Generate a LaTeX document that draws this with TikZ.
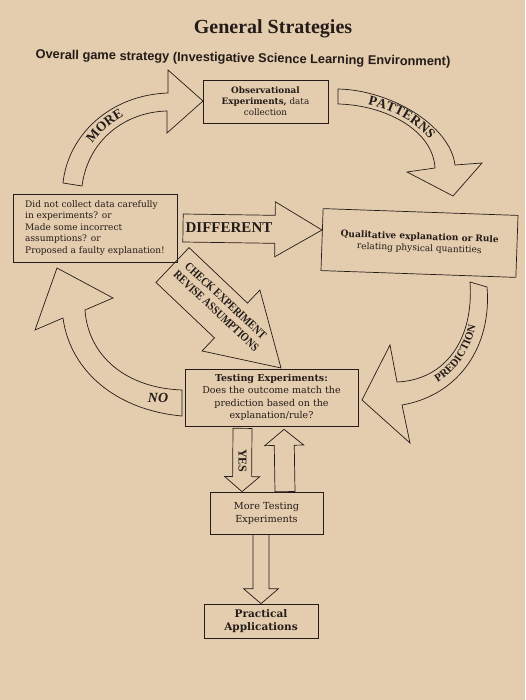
\documentclass[tikz,border=0pt]{standalone}
\usepackage{fontspec}
\setmainfont{Liberation Serif}
\newfontfamily\boxfont{DejaVu Serif}
\newfontfamily\headfont{Liberation Sans}
\usetikzlibrary{calc,decorations.text}

\definecolor{paper}{RGB}{228,204,174}
\definecolor{ink}{RGB}{35,28,24}

\tikzset{
  box/.style={draw=ink, line width=0.7pt, align=center, inner sep=1pt, text=ink,
    font=\boxfont\fontsize{9}{11.5}\selectfont},
  fat/.style={draw=ink, line width=0.7pt, line join=miter},
  tag/.style={font=\bfseries\fontsize{#1}{#1}\selectfont, inner sep=0pt, text=ink},
  tag/.default=12
}

% straight block arrow: tail, tip, half shaft, half head, head length
\newcommand{\fatarrow}[5]{%
  \coordinate (fa-h) at ($(#2)!#5!(#1)$);
  \draw[fat] ($(#1)!#3!90:(#2)$) -- ($(fa-h)!#3!90:(#2)$) -- ($(fa-h)!#4!90:(#2)$)
    -- (#2) -- ($(fa-h)!#4!-90:(#2)$) -- ($(fa-h)!#3!-90:(#2)$) -- ($(#1)!#3!-90:(#2)$) -- cycle;}

\begin{document}
\begin{tikzpicture}[x=1pt,y=-1pt]
\fill[paper] (0,0) rectangle (525,700);
\useasboundingbox (0,0) rectangle (525,700);

% headings
\node[text=ink] (title) at (273,29) {\fontsize{20}{20}\selectfont\bfseries General Strategies};
\node[text=ink, rotate=-1] (sub) at (243,59) {\headfont\fontsize{12.8}{12.8}\selectfont\bfseries Overall game strategy (Investigative Science Learning Environment)};

% boxes
\node[box, minimum width=125pt, minimum height=43pt, font=\boxfont\fontsize{8.8}{11}\selectfont] (obs) at (265.5,101.5)
  {\textbf{Observational}\\\textbf{Experiments,} data\\collection};
\node[box, align=left, minimum width=164pt, minimum height=68pt] (err) at (95,228)
  {Did not collect data carefully\\in experiments? or\\Made some incorrect\\assumptions? or\\Proposed a faulty explanation!};
\node[box, rotate=-2, minimum width=195pt, minimum height=62pt] (rule) at (419.5,243)
  {\textbf{Qualitative explanation or Rule}\\relating physical quantities};
\node[box, minimum width=173pt, minimum height=57pt, font=\boxfont\fontsize{9.5}{12.5}\selectfont] (test) at (271.5,397.5)
  {\textbf{Testing Experiments:}\\Does the outcome match the\\prediction based on the\\explanation/rule?};
\node[box, minimum width=113pt, minimum height=42pt, font=\boxfont\fontsize{9.7}{13}\selectfont] (more) at (266.5,513)
  {More Testing\\Experiments};
\node[box, minimum width=114pt, minimum height=34pt, font=\boxfont\bfseries\fontsize{10.5}{13}\selectfont] (apps) at (261,621)
  {Practical\\Applications};

% curved arrows round the cycle
\draw[fat] (63,183) .. controls (68,135) and (110,95) .. (168,93) -- (168,70) -- (203,101) -- (167,133)
  -- (167,111) .. controls (125,112) and (88,140) .. (82,186) -- cycle;
\path[decorate, decoration={text along path, text align=center, text color=ink,
  text={|\bfseries\fontsize{13.5}{13.5}\selectfont|MORE}}]
  (76,185) .. controls (82,139) and (120,107) .. (167,105);

\draw[fat] (338,89) .. controls (390,90) and (450,125) .. (455,165) -- (482,163) -- (453,196) -- (407,172)
  -- (435,168) .. controls (433,130) and (385,105) .. (338,104) -- cycle;
\path[decorate, decoration={text along path, text align=center, text color=ink,
  text={|\bfseries\fontsize{13.5}{13.5}\selectfont|PATTERNS}}]
  (338,101) .. controls (387,102) and (438,128) .. (440,167);

\draw[fat] (470,282) -- (487,287) .. controls (492,345) and (460,395) .. (402,405) -- (410,443) -- (362,400)
  -- (390,345) -- (397,382) .. controls (445,380) and (474,340) .. (470,282) -- cycle;
\path[decorate, decoration={text along path, text align=center, text color=ink,
  text={|\bfseries\fontsize{11}{11}\selectfont|PREDICTION}}]
  (399,394) .. controls (455,390) and (483,343) .. (478,285);

\draw[fat] (182,390) -- (182,416) .. controls (115,410) and (70,370) .. (63,318) -- (35,330) -- (57,268)
  -- (113,298) -- (85,310) .. controls (88,355) and (125,388) .. (182,390) -- cycle;
\node[tag, font=\bfseries\itshape\fontsize{14}{14}\selectfont] (no) at (158,398) {NO};

% straight arrows
\coordinate (diff-tail) at (183,228);
\coordinate (diff-tip) at (322,230);
\fatarrow{diff-tail}{diff-tip}{14pt}{27.5pt}{47pt}
\node[tag=15] (diff) at (229,228) {DIFFERENT};

\coordinate (chk-tail) at (172.5,265);
\coordinate (chk-tip) at (281,368);
\fatarrow{chk-tail}{chk-tip}{24pt}{42pt}{69pt}
\node[tag=12, rotate=-43] (chk) at (220,307)
  {\scalebox{0.83}[1]{\begin{tabular}{@{}c@{}}CHECK EXPERIMENT\\[2pt]REVISE ASSUMPTIONS\end{tabular}}};

\coordinate (yes-tail) at ($(test.south)+(-29,2)$);
\coordinate (yes-tip) at ($(more.north)+(-24.5,0)$);
\fatarrow{yes-tail}{yes-tip}{9.5pt}{17.5pt}{15pt}
\node[tag=12, rotate=-90] (yes) at (242.5,461) {YES};

\coordinate (back-tail) at ($(more.north)+(18.5,0)$);
\coordinate (back-tip) at ($(test.south)+(12.5,3)$);
\fatarrow{back-tail}{back-tip}{10pt}{19.5pt}{16pt}

\coordinate (app-tail) at (more.south -| apps.north);
\fatarrow{app-tail}{apps.north}{8pt}{17.5pt}{15pt}
\end{tikzpicture}
\end{document}
